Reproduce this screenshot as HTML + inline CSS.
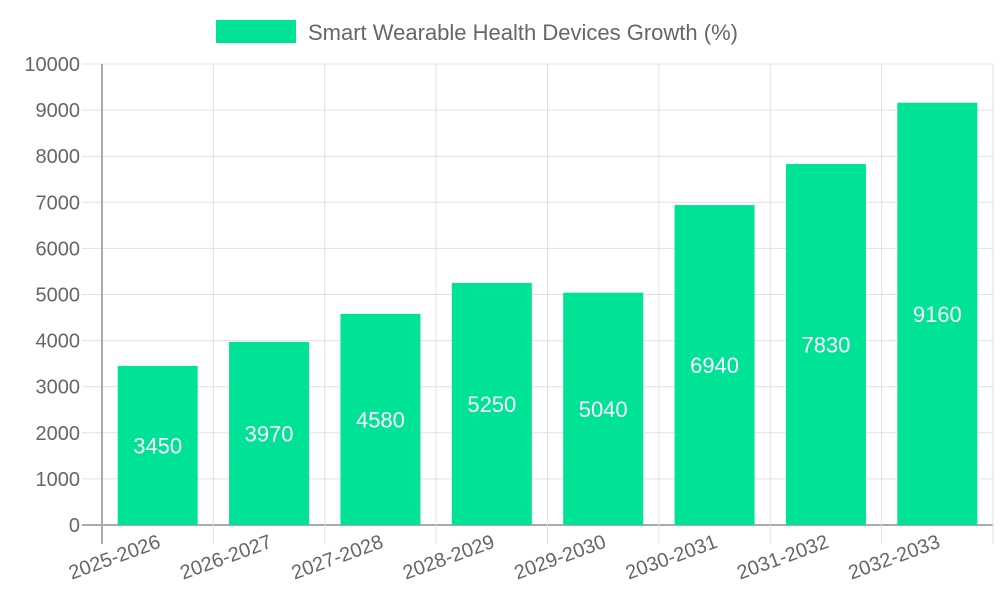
<!DOCTYPE html>
<html><head><meta charset="utf-8"><style>
html,body{margin:0;padding:0;background:#fff;}
svg{display:block;font-family:"Liberation Sans",sans-serif;}
</style></head><body>
<svg id="chart" width="1000" height="600">
<g>
<rect x="216" y="20" width="80" height="23" fill="#00e396"></rect>
<text x="308" y="40" font-size="22" fill="#666">Smart Wearable Health Devices Growth (%)</text>
</g>
<g id="grid"></g><g id="bars"></g><g id="axes"></g>
</svg>
<script>
const categories=["2025-2026","2026-2027","2027-2028","2028-2029","2029-2030","2030-2031","2031-2032","2032-2033"];
const values=[3450,3970,4580,5250,5040,6940,7830,9160];
const yTicks=[0,1000,2000,3000,4000,5000,6000,7000,8000,9000,10000];
const NS="http://www.w3.org/2000/svg";
const L=102,R=993,T=64,B=525,yMax=10000;
const cw=(R-L)/categories.length;
const y=v=>B-(v/yMax)*(B-T);
const x=i=>L+i*cw;
function mk(tag,attrs,parent,txt){const e=document.createElementNS(NS,tag);for(const k in attrs)e.setAttribute(k,attrs[k]);if(txt!==undefined)e.textContent=txt;parent.appendChild(e);return e;}
const grid=document.getElementById('grid'),bars=document.getElementById('bars'),axes=document.getElementById('axes');
yTicks.forEach(t=>{
  const l=mk('line',{x1:82,x2:R,y1:y(t),y2:y(t),stroke:t===0?'#aaa':'#e0e0e0','stroke-width':t===0?2:1},grid);
  
  
  const tx=mk('text',{x:80,y:y(t)+7,'text-anchor':'end','font-size':20,fill:'#666'},axes,t);
  
  
});
for(let i=0;i<=categories.length;i++){
  const l=mk('line',{x1:x(i),x2:x(i),y1:T,y2:B+19,stroke:i===0?'#aaa':'#e0e0e0','stroke-width':i===0?2:1},grid);
  
  
}
categories.forEach((c,i)=>{
  const cx=x(i)+cw/2,bw=80,top=y(values[i]);
  const r=mk('rect',{x:cx-bw/2,y:top,width:bw,height:B-top,fill:'#00e396'},bars);
  
  
  const v=mk('text',{x:cx,y:(top+B)/2+8,'text-anchor':'middle','font-size':22,fill:'#fff'},bars,values[i]);
  
  
  const t=mk('text',{x:cx+4,y:B+22,'text-anchor':'end','font-size':20,fill:'#666',transform:`rotate(-20 ${cx+4} ${B+22})`},axes,c);
  
  
});
</script>
</body></html>
